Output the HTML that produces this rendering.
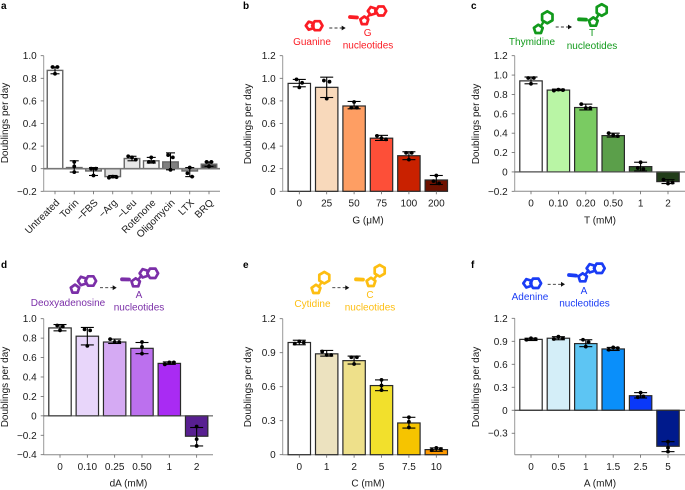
<!DOCTYPE html>
<html lang="en">
<head>
<meta charset="utf-8">
<title>Doublings per day panels</title>
<style>
html,body{margin:0;padding:0;background:#fff;width:685px;height:490px;overflow:hidden}
svg{display:block;font-family:"Liberation Sans",sans-serif;filter:blur(0.35px)}
</style>
</head>
<body>
<svg id="figure" width="685" height="490" viewBox="0 0 685 490" xmlns="http://www.w3.org/2000/svg"></svg>
<script>
// Panel a
const aCategories = ['Untreated','Torin','−FBS','−Arg','−Leu','Rotenone','Oligomycin','LTX','BRQ'];
const aValues = [0.87,0.01,-0.02,-0.07,0.09,0.07,0.06,-0.02,0.04];
const aPoints = [[0.90,0.90,0.84],[0.06,0.02,-0.03],[0.0,0.0,-0.06],[-0.08,-0.07,-0.075],[0.11,0.10,0.08],[0.10,0.06,0.06],[0.12,0.10,-0.01],[0.01,-0.04,-0.07],[0.06,0.06,0.02]];
const aErrLow = [0.84,-0.03,-0.06,-0.08,0.07,0.05,-0.01,-0.07,0.02];
const aErrHigh = [0.90,0.07,0.01,-0.06,0.11,0.10,0.14,0.01,0.06];
const aTicks = [1.0,0.8,0.6,0.4,0.2,0,-0.2];
const aTickLabels = ['1.0','0.8','0.6','0.4','0.2','0','−0.2'];
// Panel b
const bCategories = ['0','25','50','75','100','200'];
const bValues = [0.955,0.92,0.755,0.47,0.315,0.10];
const bPoints = [[0.99,0.96,0.92],[0.98,0.97,0.82],[0.79,0.74,0.74],[0.49,0.47,0.46],[0.34,0.34,0.28],[0.14,0.09,0.07]];
const bErrLow = [0.925,0.83,0.73,0.45,0.28,0.06];
const bErrHigh = [0.99,1.01,0.795,0.495,0.35,0.14];
const bTicks = [1.2,1.0,0.8,0.6,0.4,0.2,0];
const bTickLabels = ['1.2','1.0','0.8','0.6','0.4','0.2','0'];
// Panel c
const cCategories = ['0','0.10','0.20','0.50','1','2'];
const cValues = [0.94,0.845,0.665,0.375,0.055,-0.10];
const cPoints = [[0.97,0.97,0.91],[0.84,0.85,0.845],[0.70,0.66,0.66],[0.40,0.38,0.37],[0.10,0.04,0.03],[-0.08,-0.12,-0.11]];
const cErrLow = [0.91,0.84,0.64,0.36,0.01,-0.12];
const cErrHigh = [0.98,0.855,0.70,0.40,0.10,-0.08];
const cTicks = [1.2,1.0,0.8,0.6,0.4,0.2,0,-0.2];
const cTickLabels = ['1.2','1.0','0.8','0.6','0.4','0.2','0','−0.2'];
// Panel d
const dCategories = ['0','0.10','0.25','0.50','1','2'];
const dValues = [0.905,0.82,0.76,0.695,0.54,-0.21];
const dPoints = [[0.93,0.92,0.88],[0.89,0.88,0.72],[0.79,0.76,0.76],[0.76,0.71,0.64],[0.53,0.55,0.55],[-0.11,-0.24,-0.31]];
const dErrLow = [0.875,0.73,0.745,0.64,0.53,-0.31];
const dErrHigh = [0.94,0.91,0.79,0.755,0.555,-0.12];
const dTicks = [1.0,0.8,0.6,0.4,0.2,0,-0.2,-0.4];
const dTickLabels = ['1.0','0.8','0.6','0.4','0.2','0','−0.2','−0.4'];
// Panel e
const eCategories = ['0','1','2','5','7.5','10'];
const eValues = [0.99,0.89,0.83,0.61,0.28,0.045];
const ePoints = [[0.98,1.0,0.99],[0.91,0.88,0.88],[0.86,0.86,0.80],[0.66,0.61,0.57],[0.33,0.29,0.24],[0.04,0.06,0.05]];
const eErrLow = [0.97,0.87,0.80,0.565,0.235,0.03];
const eErrHigh = [1.01,0.92,0.87,0.66,0.33,0.06];
const eTicks = [1.2,0.9,0.6,0.3,0];
const eTickLabels = ['1.2','0.9','0.6','0.3','0'];
// Panel f
const fCategories = ['0','0.5','1','1.5','2.5','5'];
const fValues = [0.925,0.94,0.87,0.80,0.19,-0.47];
const fPoints = [[0.92,0.94,0.93],[0.93,0.96,0.94],[0.92,0.89,0.83],[0.79,0.82,0.81],[0.23,0.17,0.18],[-0.41,-0.49,-0.54]];
const fErrLow = [0.91,0.92,0.83,0.78,0.16,-0.54];
const fErrHigh = [0.94,0.96,0.92,0.82,0.23,-0.41];
const fTicks = [1.2,0.9,0.6,0.3,0,-0.3];
const fTickLabels = ['1.2','0.9','0.6','0.3','0','−0.3'];

const NS = 'http://www.w3.org/2000/svg';
const root = document.getElementById('figure');

function mk(parent, tag, attrs, text) {
  const el = document.createElementNS(NS, tag);
  for (const k in attrs) el.setAttribute(k, attrs[k]);
  if (text !== undefined) el.textContent = text;
  parent.appendChild(el);
  return el;
}
function label(parent, x, y, str, fill, anchor, name, extra) {
  const el = mk(parent, 'text', Object.assign({x:x, y:y, 'font-size':10, fill:fill, 'text-anchor':anchor}, extra || {}), str);
  
  
  return el;
}
function ring(parent, cx, cy, r, n, color, rot) {
  const pts = [];
  const rr = r + 0.6;
  for (let i = 0; i < n; i++) {
    const t = rot + i * 2 * Math.PI / n;
    pts.push((cx + rr * Math.cos(t)).toFixed(1) + ',' + (cy + rr * Math.sin(t)).toFixed(1));
  }
  mk(parent, 'polygon', {points: pts.join(' '), fill: 'none', stroke: color, 'stroke-width': 2.7, 'stroke-linejoin': 'round'});
}

function drawPanel(p) {
  const g = mk(root, 'g', {});
  
  
  label(g, p.letterX, p.letterY, p.id, '#000', 'start', 'panel-letter-' + p.id, {'font-weight': 'bold'});

  const yScale = v => p.y0 + (p.yMax - v) * (p.y1 - p.y0) / (p.yMax - p.yMin);
  const xScale = i => p.cx0 + i * p.step;
  const zeroY = yScale(0);

  // axes
  const yAxis = mk(g, 'line', {x1:p.axisX, x2:p.axisX, y1:p.y0, y2:p.y1, stroke:'#999', 'stroke-width':1});
  
  
  const xAxis = mk(g, 'line', {x1:p.axisX, x2:p.right, y1:p.y1, y2:p.y1, stroke:'#888', 'stroke-width':1});
  
  

  p.ticks.forEach((t, i) => {
    const y = yScale(t);
    mk(g, 'line', {x1:p.axisX - 3, x2:p.axisX, y1:y, y2:y, stroke:'#666', 'stroke-width':0.8});
    label(g, p.axisX - 7, y + 3.5, p.tickLabels[i], '#1a1a1a', 'end', 'y-tick-label');
  });
  const yt = label(g, 0, 0, 'Doublings per day', '#1a1a1a', 'middle', 'y-axis-title');
  yt.setAttribute('transform', 'translate(' + p.titleX + ',' + p.titleY + ') rotate(-90)');

  // bars
  p.categories.forEach((c, i) => {
    const v = p.values[i], cx = xScale(i), yv = yScale(v);
    const bar = mk(g, 'rect', {x:cx - p.barW / 2, y:Math.min(yv, zeroY), width:p.barW, height:Math.abs(yv - zeroY), fill:p.colors[i], stroke:p.barStroke, 'stroke-width':p.barSW});
    
    
    mk(g, 'line', {x1:cx, x2:cx, y1:p.y1, y2:p.y1 + 3, stroke:'#666', 'stroke-width':0.8});
    if (p.rotate) {
      const tl = label(g, 0, 0, c, '#1a1a1a', 'end', 'x-tick-label');
      tl.setAttribute('transform', 'translate(' + (cx + 5) + ',' + (p.y1 + 12) + ') rotate(-45)');
    } else {
      label(g, cx, p.y1 + 15.3, c, '#1a1a1a', 'middle', 'x-tick-label');
    }
  });

  if (p.yMin < 0) {
    const z = mk(g, 'line', {x1:p.axisX, x2:p.right, y1:zeroY, y2:zeroY, stroke:p.zeroStroke, 'stroke-width':p.zeroSW});
    
    
  }

  // error bars & points
  p.categories.forEach((c, i) => {
    const cx = xScale(i), lo = yScale(p.errLow[i]), hi = yScale(p.errHigh[i]), cap = p.capW;
    const eg = mk(g, 'g', {stroke:'#000', 'stroke-width':1.1, fill:'none'});
    
    
    mk(eg, 'line', {x1:cx, x2:cx, y1:lo, y2:hi});
    mk(eg, 'line', {x1:cx - cap, x2:cx + cap, y1:lo, y2:lo});
    mk(eg, 'line', {x1:cx - cap, x2:cx + cap, y1:hi, y2:hi});
    const ys = p.points[i].map(yScale);
    const closeAll = Math.max.apply(null, ys) - Math.min.apply(null, ys) < 4;
    ys.forEach((py, j) => {
      let off = 0;
      if (closeAll) off = [-p.spread, 0, p.spread][j];
      else {
        const near = ys.findIndex((o, k) => k !== j && Math.abs(o - py) < 3.5);
        if (near >= 0) off = j < near ? -p.spread * 0.62 : p.spread * 0.62;
      }
      const dot = mk(g, 'circle', {cx:cx + off, cy:py, r:1.9, fill:'#000'});
      
      
    });
  });

  if (p.xTitle) label(g, p.xTitleX, p.y1 + 32, p.xTitle, '#1a1a1a', 'middle', 'x-axis-title');

  // pathway schematic
  if (p.scheme) {
    const s = p.scheme, col = s.color;
    const sg = mk(g, 'g', {});
    
    
    s.rings.forEach(r => ring(sg, r[0], r[1], r[2], r[3], col, r[4]));
    (s.links || []).forEach(l => mk(sg, 'line', {x1:l[0], y1:l[1], x2:l[2], y2:l[3], stroke:col, 'stroke-width':2.4}));
    mk(sg, 'line', {x1:s.tail[0], x2:s.tail[2], y1:s.tail[1], y2:s.tail[3], stroke:col, 'stroke-width':3.8, 'stroke-linecap':'round'});
    const a = s.arrow;
    mk(sg, 'line', {x1:a[0], x2:a[1] - 3, y1:a[2], y2:a[2], stroke:'#333', 'stroke-width':0.9, 'stroke-dasharray':'3 2.2'});
    mk(sg, 'polygon', {points:(a[1] - 4) + ',' + (a[2] - 2.4) + ' ' + a[1] + ',' + a[2] + ' ' + (a[1] - 4) + ',' + (a[2] + 2.4), fill:'#111'});
    s.text.forEach(t => label(sg, t[0], t[1], t[2], col, 'middle', 'pathway-label'));
  }
}

const hexF = 0, hexP = Math.PI / 6, penU = -Math.PI / 2;
const panels = [
 {id:'a', letterX:1, letterY:9, axisX:43.7, y0:55.7, y1:191.3, yMax:1.0, yMin:-0.2, right:220, cx0:55, step:19.25, barW:15.5, capW:4.5, spread:3.8,
  barStroke:'#666', barSW:1.4, zeroStroke:'#777', zeroSW:1.6, rotate:true, titleX:8, titleY:123,
  categories:aCategories, values:aValues, points:aPoints, errLow:aErrLow, errHigh:aErrHigh, ticks:aTicks, tickLabels:aTickLabels,
  colors:['#ffffff','#777777','#cccccc','#dddddd','#e8e8e8','#f2f2f2','#808080','#a5a5a5','#444444']},
 {id:'b', letterX:243, letterY:9, axisX:282.7, y0:55.7, y1:191.3, yMax:1.2, yMin:0, right:448, cx0:299.3, step:27.4, barW:22.4, capW:6.5, spread:4.5,
  barStroke:'#2a2a2a', barSW:1.2, zeroStroke:'#555', zeroSW:1, titleX:251, titleY:124, xTitle:'G (μM)', xTitleX:368,
  categories:bCategories, values:bValues, points:bPoints, errLow:bErrLow, errHigh:bErrHigh, ticks:bTicks, tickLabels:bTickLabels,
  colors:['#ffffff','#f8d9bb','#fe9e63','#fd4f38','#c92100','#6e1100'],
  scheme:{color:'#fb1c24', rings:[[310,25.7,3.6,5,Math.PI],[317.3,25.7,4.6,6,hexF],[364.3,20.7,3.6,5,penU],[372,11,3.6,5,Math.PI],[381,11,4.6,6,hexF]],
   links:[[367,18,370,14]], tail:[350,17,357,17.5], arrow:[329.3,345.7,28],
   text:[[312,45,'Guanine'],[367.7,36,'G'],[368,48.5,'nucleotides']]}},
 {id:'c', letterX:471, letterY:9, axisX:514.7, y0:55.7, y1:191.3, yMax:1.2, yMin:-0.2, right:685, cx0:531, step:27.4, barW:22.4, capW:6.5, spread:4.5,
  barStroke:'#2a2a2a', barSW:1.2, zeroStroke:'#555', zeroSW:1.2, titleX:479, titleY:124, xTitle:'T (mM)', xTitleX:600,
  categories:cCategories, values:cValues, points:cPoints, errLow:cErrLow, errHigh:cErrHigh, ticks:cTicks, tickLabels:cTickLabels,
  colors:['#ffffff','#b9f5a5','#7acb62','#5b9f4a','#2f5f28','#223d1a'],
  scheme:{color:'#129a1c', rings:[[538.3,29.3,4,5,penU],[547.3,17.3,5.4,6,hexP],[593.3,22,4,5,penU],[601.7,10,5.2,6,hexP]],
   links:[[541,26,544,21],[596,19,599,14]], tail:[579,19.3,586,19.6], arrow:[555.7,572,27],
   text:[[532,45,'Thymidine'],[592,36,'T'],[592,49,'nucleotides']]}},
 {id:'d', letterX:1, letterY:268, axisX:43.7, y0:318.7, y1:454.7, yMax:1.0, yMin:-0.4, right:213, cx0:60, step:27.33, barW:22.4, capW:6.5, spread:4.5,
  barStroke:'#2a2a2a', barSW:1.2, zeroStroke:'#444', zeroSW:1, titleX:8, titleY:387, xTitle:'dA (mM)', xTitleX:128.5,
  categories:dCategories, values:dValues, points:dPoints, errLow:dErrLow, errHigh:dErrHigh, ticks:dTicks, tickLabels:dTickLabels,
  colors:['#ffffff','#e8d6fa','#d5aaf3','#bc70ee','#a92bf3','#581f91'],
  scheme:{color:'#7b2fa8', rings:[[75,289,3.8,5,penU],[82.3,281,3.8,5,Math.PI],[90.7,281,4.8,6,hexF],[135.7,282.7,3.8,5,penU],[144,273.3,3.8,5,Math.PI],[152.7,273.3,4.8,6,hexF]],
   links:[[138,280,141,276]], tail:[122,279.3,129,279.5], arrow:[100,116.7,287.7],
   text:[[68,306,'Deoxyadenosine'],[139,298,'A'],[139,310.5,'nucleotides']]}},
 {id:'e', letterX:243, letterY:268, axisX:282.7, y0:318.7, y1:454.7, yMax:1.2, yMin:0, right:448, cx0:299.3, step:27.4, barW:22.4, capW:6.5, spread:4.5,
  barStroke:'#2a2a2a', barSW:1.2, zeroStroke:'#555', zeroSW:1, titleX:251, titleY:387, xTitle:'C (mM)', xTitleX:368,
  categories:eCategories, values:eValues, points:ePoints, errLow:eErrLow, errHigh:eErrHigh, ticks:eTicks, tickLabels:eTickLabels,
  colors:['#ffffff','#ece2bf','#eee08a','#f2e02c','#f6c400','#ff9a00'],
  scheme:{color:'#fdbe11', rings:[[316,289.3,4,5,penU],[324.3,277.7,5.2,6,hexP],[371,282.3,4,5,penU],[379.7,270.7,5.2,6,hexP]],
   links:[[319,286,322,282],[374,279,377,275]], tail:[356,279.3,363,279.6], arrow:[332.3,349.3,287.7],
   text:[[312.5,307,'Cytidine'],[370,298,'C'],[370,310.5,'nucleotides']]}},
 {id:'f', letterX:471, letterY:268, axisX:514.7, y0:318.3, y1:454.7, yMax:1.2, yMin:-0.58, right:685, cx0:531, step:27.4, barW:22.4, capW:6.5, spread:4.5,
  barStroke:'#2a2a2a', barSW:1.2, zeroStroke:'#333', zeroSW:1, titleX:479, titleY:387, xTitle:'A (mM)', xTitleX:600,
  categories:fCategories, values:fValues, points:fPoints, errLow:fErrLow, errHigh:fErrHigh, ticks:fTicks, tickLabels:fTickLabels,
  colors:['#ffffff','#d4eef8','#5dc5f3','#0a8ffa','#0a38f8','#001a8c'],
  scheme:{color:'#1a3cf5', rings:[[527.7,283.3,3.8,5,Math.PI],[535.7,283.3,4.8,6,hexF],[582.7,277.7,3.8,5,penU],[591,268.3,3.8,5,Math.PI],[599.3,268.3,4.8,6,hexF]],
   links:[[585,275,588,271]], tail:[569,275,576,275.6], arrow:[547.7,565,284.3],
   text:[[530,300,'Adenine'],[584,294,'A'],[584.5,306.5,'nucleotides']]}}
];
panels.forEach(drawPanel);
</script>
</body>
</html>
